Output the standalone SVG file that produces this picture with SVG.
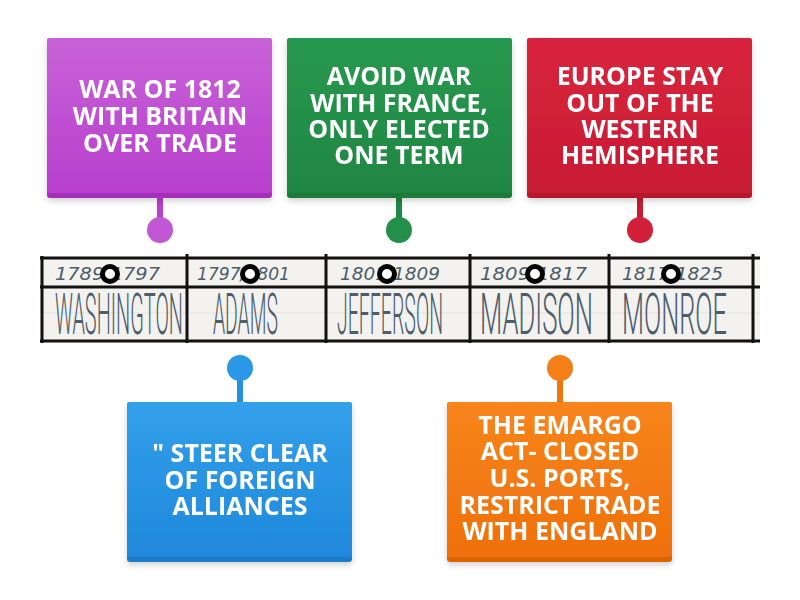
<svg xmlns="http://www.w3.org/2000/svg" width="800" height="600" viewBox="0 0 800 600">
  <defs>
    <linearGradient id="gPurple" x1="0" y1="0" x2="0" y2="1">
      <stop offset="0" stop-color="#c862d8"/><stop offset="1" stop-color="#b73fcd"/>
    </linearGradient>
    <linearGradient id="gGreen" x1="0" y1="0" x2="0" y2="1">
      <stop offset="0" stop-color="#28994f"/><stop offset="1" stop-color="#1f8643"/>
    </linearGradient>
    <linearGradient id="gRed" x1="0" y1="0" x2="0" y2="1">
      <stop offset="0" stop-color="#d9243d"/><stop offset="1" stop-color="#c81c33"/>
    </linearGradient>
    <linearGradient id="gBlue" x1="0" y1="0" x2="0" y2="1">
      <stop offset="0" stop-color="#33a0ea"/><stop offset="1" stop-color="#1f88dc"/>
    </linearGradient>
    <linearGradient id="gOrange" x1="0" y1="0" x2="0" y2="1">
      <stop offset="0" stop-color="#f7851c"/><stop offset="1" stop-color="#ef700c"/>
    </linearGradient>
    <filter id="shadow" x="-10%" y="-10%" width="120%" height="130%">
      <feDropShadow dx="0" dy="3" stdDeviation="3" flood-color="#000" flood-opacity="0.18"/>
    </filter>
  </defs>
  <style>
    .label { font-family: "Open Sans", "DejaVu Sans", sans-serif; font-weight: 700; font-size: 25px; fill: #ffffff; text-anchor: middle; }
    .name { font-family: Roboto, "DejaVu Sans", sans-serif; font-weight: 300; font-size: 20px; fill: #4d5d6b; }
    .year { font-family: "DejaVu Sans", sans-serif; font-style: italic; font-weight: 300; font-size: 18px; fill: #4d5d6b; }
    .grid { stroke: #111; stroke-width: 3; fill: none; }
    .mark { fill: #ffffff; stroke: #000; stroke-width: 5; }
  </style>
  <rect width="800" height="600" fill="#ffffff"/>

  <!-- timeline (photo of chart) -->
  <g id="timeline">
    <rect x="40" y="257" width="720" height="85" fill="#f3f2ef"/>
    <line x1="40" y1="313" x2="760" y2="313" stroke="#e6e4df" stroke-width="1"/>
    <line x1="40" y1="258" x2="760" y2="258" class="grid"/>
    <line x1="40" y1="287" x2="760" y2="287" class="grid"/>
    <line x1="40" y1="341" x2="760" y2="341" class="grid"/>
    <line x1="42" y1="256" x2="42" y2="343" class="grid"/>
    <line x1="187" y1="254" x2="187" y2="343" class="grid"/>
    <line x1="326" y1="254" x2="326" y2="343" class="grid"/>
    <line x1="470" y1="254" x2="470" y2="343" class="grid"/>
    <line x1="609" y1="254" x2="609" y2="343" class="grid"/>
    <line x1="753" y1="254" x2="753" y2="343" class="grid"/>
    <text class="year" x="55" y="280" textLength="105" lengthAdjust="spacingAndGlyphs">1789/1797</text>
    <text class="year" x="197" y="280" textLength="93" lengthAdjust="spacingAndGlyphs">1797/1801</text>
    <text class="year" x="340" y="280" textLength="100" lengthAdjust="spacingAndGlyphs">1801/1809</text>
    <text class="year" x="480" y="280" textLength="107" lengthAdjust="spacingAndGlyphs">1809/1817</text>
    <text class="year" x="622" y="280" textLength="101" lengthAdjust="spacingAndGlyphs">1817/1825</text>
    <text class="name" transform="translate(55,334) scale(1,2.9)" textLength="128" lengthAdjust="spacingAndGlyphs">WASHINGTON</text>
    <text class="name" transform="translate(213,334) scale(1,2.9)" textLength="65" lengthAdjust="spacingAndGlyphs">ADAMS</text>
    <text class="name" transform="translate(337,334) scale(1,2.9)" textLength="106" lengthAdjust="spacingAndGlyphs">JEFFERSON</text>
    <text class="name" transform="translate(480,334) scale(1,2.9)" textLength="113" lengthAdjust="spacingAndGlyphs">MADISON</text>
    <text class="name" transform="translate(622,334) scale(1,2.9)" textLength="105" lengthAdjust="spacingAndGlyphs">MONROE</text>
  </g>

  <!-- connectors: stems, dots and timeline markers -->
  <g id="connectors">
    <rect x="157" y="196" width="6" height="34" fill="#b840cd"/>
    <circle cx="160" cy="230" r="13" fill="#c257d5"/>
    <rect x="396" y="196" width="6" height="34" fill="#208744"/>
    <circle cx="399" cy="230" r="13" fill="#23904a"/>
    <rect x="637" y="196" width="6" height="34" fill="#c81c33"/>
    <circle cx="640" cy="230" r="13" fill="#d2203a"/>
    <rect x="237" y="368" width="6" height="36" fill="#2590e0"/>
    <circle cx="240" cy="368" r="13" fill="#2b97e6"/>
    <rect x="557" y="368" width="6" height="36" fill="#f07710"/>
    <circle cx="560" cy="368" r="13" fill="#f47e18"/>
    <circle class="mark" cx="110" cy="274" r="7.5"/>
    <circle class="mark" cx="250" cy="274" r="7.5"/>
    <circle class="mark" cx="387" cy="274" r="7.5"/>
    <circle class="mark" cx="535" cy="274" r="7.5"/>
    <circle class="mark" cx="671" cy="274" r="7.5"/>
  </g>

  <g id="node-washington-top" filter="url(#shadow)">
    <rect x="47" y="38" width="225" height="160" rx="3" fill="#a52fbc"/>
    <rect x="47" y="38" width="225" height="155" rx="3" fill="url(#gPurple)"/>
    <text class="label" x="160" y="98"><tspan x="160" y="98">WAR OF 1812</tspan><tspan x="160" y="125">WITH BRITAIN</tspan><tspan x="160" y="152">OVER TRADE</tspan></text>
  </g>
  <g id="node-adams" filter="url(#shadow)">
    <rect x="287" y="38" width="225" height="160" rx="3" fill="#1a7a3b"/>
    <rect x="287" y="38" width="225" height="155" rx="3" fill="url(#gGreen)"/>
    <text class="label" x="399" y="85"><tspan x="399" y="85">AVOID WAR</tspan><tspan x="399" y="112">WITH FRANCE,</tspan><tspan x="399" y="138">ONLY ELECTED</tspan><tspan x="399" y="164">ONE TERM</tspan></text>
  </g>
  <g id="node-monroe" filter="url(#shadow)">
    <rect x="527" y="38" width="225" height="160" rx="3" fill="#b8172c"/>
    <rect x="527" y="38" width="225" height="155" rx="3" fill="url(#gRed)"/>
    <text class="label" x="640" y="85"><tspan x="640" y="85">EUROPE STAY</tspan><tspan x="640" y="112">OUT OF THE</tspan><tspan x="640" y="138">WESTERN</tspan><tspan x="640" y="164">HEMISPHERE</tspan></text>
  </g>
  <g id="node-washington-bottom" filter="url(#shadow)">
    <rect x="127" y="402" width="225" height="160" rx="3" fill="#1a7cc9"/>
    <rect x="127" y="402" width="225" height="155" rx="3" fill="url(#gBlue)"/>
    <text class="label" x="240" y="462"><tspan x="240" y="462">" STEER CLEAR</tspan><tspan x="240" y="489">OF FOREIGN</tspan><tspan x="240" y="515">ALLIANCES</tspan></text>
  </g>
  <g id="node-jefferson" filter="url(#shadow)">
    <rect x="447" y="402" width="225" height="160" rx="3" fill="#dd6406"/>
    <rect x="447" y="402" width="225" height="155" rx="3" fill="url(#gOrange)"/>
    <text class="label" x="560" y="434"><tspan x="560" y="434">THE EMARGO</tspan><tspan x="560" y="460">ACT- CLOSED</tspan><tspan x="560" y="487">U.S. PORTS,</tspan><tspan x="560" y="514">RESTRICT TRADE</tspan><tspan x="560" y="540">WITH ENGLAND</tspan></text>
  </g>
</svg>
